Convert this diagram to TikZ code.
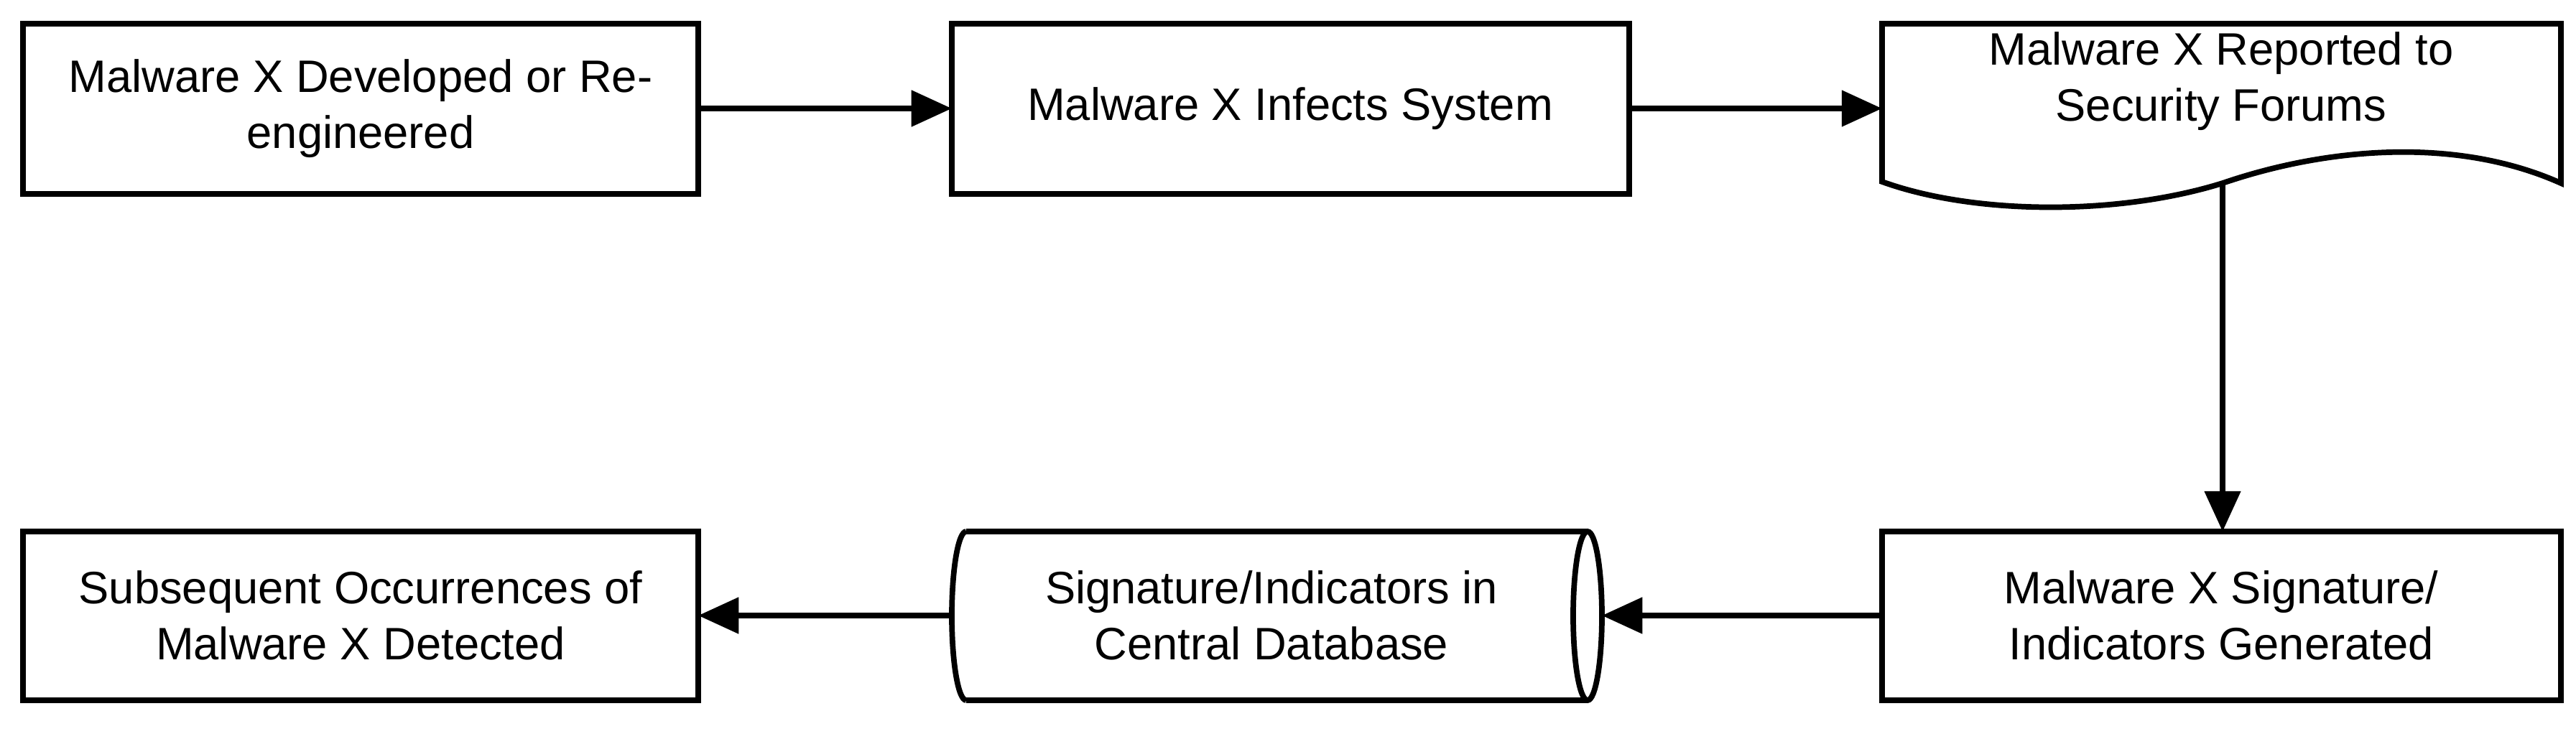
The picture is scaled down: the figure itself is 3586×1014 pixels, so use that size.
\documentclass[tikz,border=0pt]{standalone}
\usepackage{fontspec}
\setmainfont{Liberation Sans}
\usetikzlibrary{arrows.meta}
\begin{document}
\begin{tikzpicture}[x=0.01cm,y=-0.01cm,
  line width=2.2pt,
  lbl/.style={font=\fontsize{18}{22}\selectfont,align=center},
  arr/.style={-{Triangle[length=16pt,width=14pt]},line width=2.2pt}]
\useasboundingbox (0,0) rectangle (3586,1014);
% boxes
\draw (32,33) rectangle (972,270);
\node[lbl] (b1) at (502,151) {Malware X Developed or Re-\\engineered};
\coordinate (b1r) at (972,151);
\draw (1325,33) rectangle (2268,270);
\node[lbl] (b2) at (1796,151) {Malware X Infects System};
\coordinate (b2l) at (1325,151);
\coordinate (b2r) at (2268,151);
% document
\draw (2620,33) -- (3565,33) -- (3565,255)
  .. controls (3420,190) and (3240,205) .. (3094,255)
  .. controls (2950,300) and (2750,300) .. (2620,253) -- cycle;
\node[lbl] (b3) at (3092,113) {Malware X Reported to\\Security Forums};
\coordinate (b3l) at (2620,151);
\coordinate (b3b) at (3094,255);
% box4
\draw (2620,740) rectangle (3565,975);
\node[lbl] (b4) at (3092,857) {Malware X Signature/\\Indicators Generated};
\coordinate (b4t) at (3094,740);
\coordinate (b4l) at (2620,857);
% cylinder
\draw (1345,740) -- (2210,740);
\draw (1345,975) -- (2210,975);
\draw (1345,740) arc[start angle=-90,end angle=-270,x radius=20,y radius=117.5];
\draw (2210,857.5) ellipse[x radius=20,y radius=117.5];
\node[lbl] (b5) at (1770,857) {Signature/Indicators in\\Central Database};
\coordinate (b5r) at (2230,857);
\coordinate (b5l) at (1325,857);
% box6
\draw (32,740) rectangle (972,975);
\node[lbl] (b6) at (502,857) {Subsequent Occurrences of\\Malware X Detected};
\coordinate (b6r) at (972,857);
% arrows
\draw[arr] (b1r) -- (b2l);
\draw[arr] (b2r) -- (b3l);
\draw[arr] (b3b) -- (b4t);
\draw[arr] (b4l) -- (b5r);
\draw[arr] (b5l) -- (b6r);
\end{tikzpicture}
\end{document}
